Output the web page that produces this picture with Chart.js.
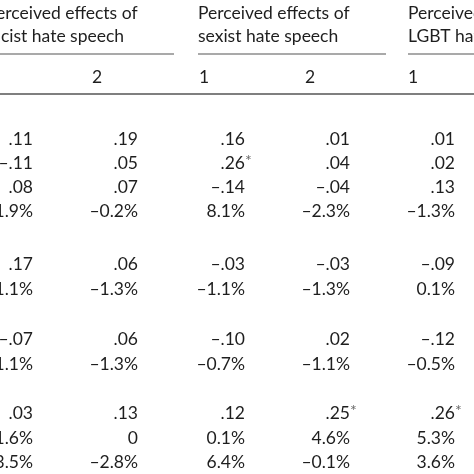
<!DOCTYPE html>
<html>
<head>
<meta charset="utf-8">
<script src="https://cdn.jsdelivr.net/npm/chart.js@4"></script>
<style>
  html, body { margin: 0; padding: 0; background: #fff; }
  #wrap { width: 474px; height: 474px; }
</style>
</head>
<body>
<div id="wrap"><canvas id="table"></canvas></div>
<script>
// table contents, one array per column (model 1/2 of each outcome)
const racist1 = ['.11', '–.11', '.08', '1.9%', '.17', '1.1%', '–.07', '1.1%', '.03', '1.6%', '3.5%'];
const racist2 = ['.19', '.05', '.07', '–0.2%', '.06', '–1.3%', '.06', '–1.3%', '.13', '0', '–2.8%'];
const sexist1 = ['.16', '.26*', '–.14', '8.1%', '–.03', '–1.1%', '–.10', '–0.7%', '.12', '0.1%', '6.4%'];
const sexist2 = ['.01', '.04', '–.04', '–2.3%', '–.03', '–1.3%', '.02', '–1.1%', '.25*', '4.6%', '–0.1%'];
const lgbt1 = ['.01', '.02', '.13', '–1.3%', '–.09', '0.1%', '–.12', '–0.5%', '.26*', '5.3%', '3.6%'];

const columns = [racist1, racist2, sexist1, sexist2, lgbt1];
const colRight = [33, 138, 245, 350, 455];
const rowY = [139, 163, 187, 211, 264, 289, 339, 364, 413, 438, 462];

const groupTitles = [
    ['Perceived effects of', 'racist hate speech'],
    ['Perceived effects of', 'sexist hate speech'],
    ['Perceived effects of', 'LGBT hate speech']
];
const groupLeft = [-14, 198, 408];
const groupRule = [[-10, 174], [198, 386], [408, 480]];
const modelLabels = ['1', '2', '1', '2', '1'];
const modelX = [-20, 97, 204, 310, 413];

const points = [];
columns.forEach((col, c) => {
    col.forEach((txt, r) => points.push({ x: colRight[c], y: rowY[r], label: txt }));
});

const FONT = '17.5px "Lato", "Open Sans", sans-serif';
const INK = '#1e1e1e';

const tablePlugin = {
    id: 'tableText',
    afterDatasetsDraw(chart) {
        const ctx = chart.ctx;
        const xs = chart.scales.x, ys = chart.scales.y;
        ctx.save();
        ctx.fillStyle = INK;
        ctx.strokeStyle = '#555';
        ctx.font = FONT;
        ctx.textBaseline = 'middle';

        // group headers
        groupTitles.forEach((lines, g) => {
            ctx.textAlign = 'left';
            ctx.fillText(lines[0], xs.getPixelForValue(groupLeft[g]), ys.getPixelForValue(13));
            ctx.fillText(lines[1], xs.getPixelForValue(groupLeft[g]), ys.getPixelForValue(36));
            ctx.lineWidth = 1.2;
            ctx.beginPath();
            ctx.moveTo(xs.getPixelForValue(groupRule[g][0]), ys.getPixelForValue(54));
            ctx.lineTo(xs.getPixelForValue(groupRule[g][1]), ys.getPixelForValue(54));
            ctx.stroke();
        });

        // model numbers
        ctx.textAlign = 'center';
        modelLabels.forEach((m, i) => {
            ctx.fillText(m, xs.getPixelForValue(modelX[i]), ys.getPixelForValue(77));
        });
        ctx.lineWidth = 1.5;
        ctx.beginPath();
        ctx.moveTo(xs.getPixelForValue(0), ys.getPixelForValue(94));
        ctx.lineTo(xs.getPixelForValue(474), ys.getPixelForValue(94));
        ctx.stroke();

        // cell values, right aligned, star hanging outside
        chart.getDatasetMeta(0).data.forEach((el, i) => {
            let txt = points[i].label;
            const star = txt.endsWith('*');
            if (star) txt = txt.slice(0, -1);
            ctx.textAlign = 'right';
            ctx.fillStyle = INK;
            ctx.fillText(txt, el.x, el.y);
            if (star) {
                ctx.textAlign = 'left';
                ctx.fillStyle = '#666';
                ctx.font = '16px "Lato", sans-serif';
                ctx.fillText('*', el.x, el.y - 2);
                ctx.font = FONT;
            }
        });
        ctx.restore();
    }
};

new Chart(document.getElementById('table'), {
    type: 'scatter',
    data: {
        datasets: [{
            data: points,
            pointRadius: 0,
            pointHoverRadius: 0
        }]
    },
    options: {
        responsive: true,
        maintainAspectRatio: false,
        animation: false,
        layout: { padding: 0 },
        plugins: { legend: { display: false }, tooltip: { enabled: false } },
        scales: {
            x: { type: 'linear', min: 0, max: 474, display: false },
            y: { type: 'linear', min: 0, max: 474, reverse: true, display: false }
        }
    },
    plugins: [tablePlugin]
});
</script>
</body>
</html>
